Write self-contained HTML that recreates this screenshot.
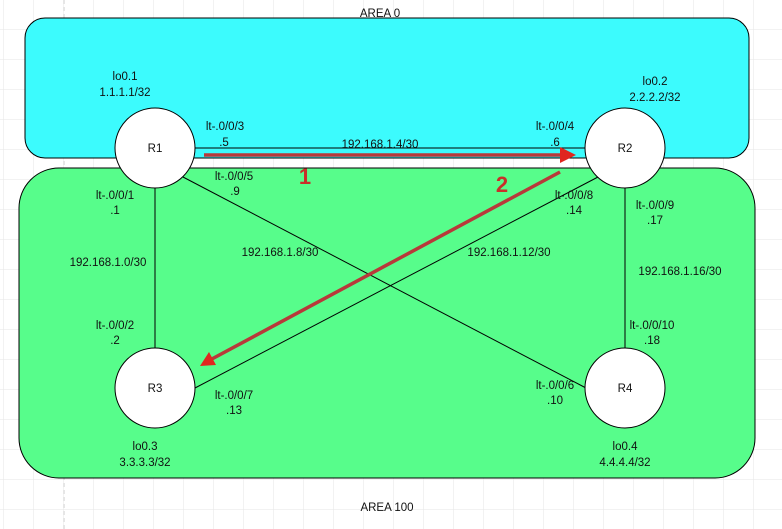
<!DOCTYPE html>
<html><head><meta charset="utf-8"><style>
html,body{margin:0;padding:0;background:#fff}
svg{display:block}
text{font-family:"Liberation Sans",Arial,sans-serif;font-size:11.5px;fill:#111;text-anchor:middle}
</style></head><body>
<svg width="782" height="529" viewBox="0 0 782 529" xmlns="http://www.w3.org/2000/svg">
<defs>
<pattern id="g" width="30" height="30" patternUnits="userSpaceOnUse" x="4" y="0">
<path d="M30 0V30M0 30H30" stroke="#e6e6e6" stroke-width="1" fill="none"/>
</pattern>
</defs>
<rect width="782" height="529" fill="url(#g)"/>
<line x1="64" y1="0" x2="64" y2="529" stroke="#ccc" stroke-dasharray="4,3"/>
<rect x="25" y="18" width="724" height="140" rx="20" fill="#3cfbfd" stroke="#000"/>
<rect x="19" y="168" width="736" height="310" rx="40" fill="#57fd8b" stroke="#000"/>
<line x1="195" y1="148" x2="585" y2="148" stroke="#000"/>
<line x1="155" y1="188" x2="155" y2="348" stroke="#000"/>
<line x1="625" y1="188" x2="625" y2="348" stroke="#000"/>
<line x1="183" y1="177" x2="586" y2="388" stroke="#000"/>
<line x1="598" y1="177" x2="195" y2="388" stroke="#000"/>
<circle cx="155" cy="148" r="40" fill="#fff" stroke="#000"/>
<circle cx="625" cy="148" r="40" fill="#fff" stroke="#000"/>
<circle cx="155" cy="388" r="40" fill="#fff" stroke="#000"/>
<circle cx="625" cy="388" r="40" fill="#fff" stroke="#000"/>
<line x1="204" y1="155" x2="562" y2="155" stroke="#b8393a" stroke-width="3.5"/>
<polygon points="576,155 560,147 560,163" fill="#e0261f"/>
<line x1="560" y1="172" x2="210" y2="360" stroke="#b8393a" stroke-width="3.5"/>
<polygon points="200,366 209,352 216,365" fill="#e0261f"/>
<text x="305" y="184" style="font-size:22px;fill:#c8302a;font-weight:bold">1</text>
<text x="502" y="192" style="font-size:22px;fill:#c8302a;font-weight:bold">2</text>
<text x="380" y="17">AREA 0</text>
<text x="387" y="511">AREA 100</text>
<text x="155" y="152">R1</text><text x="625" y="152">R2</text>
<text x="155" y="392">R3</text><text x="625" y="392">R4</text>
<text x="125" y="80">lo0.1</text><text x="125" y="96">1.1.1.1/32</text>
<text x="655" y="85">lo0.2</text><text x="655" y="101">2.2.2.2/32</text>
<text x="145" y="450">lo0.3</text><text x="145" y="466">3.3.3.3/32</text>
<text x="625" y="450">lo0.4</text><text x="625" y="466">4.4.4.4/32</text>
<text x="225" y="130">lt-.0/0/3</text><text x="224" y="146">.5</text>
<text x="380" y="148">192.168.1.4/30</text>
<text x="555" y="130">lt-.0/0/4</text><text x="555" y="146">.6</text>
<text x="234" y="180">lt-.0/0/5</text><text x="235" y="195">.9</text>
<text x="115" y="199">lt-.0/0/1</text><text x="115" y="214">.1</text>
<text x="108" y="266">192.168.1.0/30</text>
<text x="115" y="329">lt-.0/0/2</text><text x="115" y="344">.2</text>
<text x="280" y="256">192.168.1.8/30</text>
<text x="509" y="256">192.168.1.12/30</text>
<text x="574" y="199">lt-.0/0/8</text><text x="574" y="214">.14</text>
<text x="655" y="209">lt-.0/0/9</text><text x="655" y="224">.17</text>
<text x="680" y="275">192.168.1.16/30</text>
<text x="652" y="329">lt-.0/0/10</text><text x="652" y="344">.18</text>
<text x="234" y="399">lt-.0/0/7</text><text x="234" y="414">.13</text>
<text x="555" y="389">lt-.0/0/6</text><text x="555" y="404">.10</text>
</svg>
</body></html>
